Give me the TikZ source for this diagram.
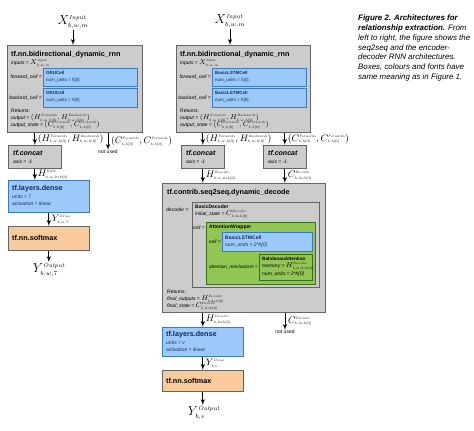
\RequirePackage{fix-cm}
\documentclass[tikz,border=0pt]{standalone}
\usepackage{amsmath}
\usepackage{fontspec}
\setsansfont{Liberation Sans}
\usepackage{tikz}
\usetikzlibrary{arrows}

\definecolor{boxgray}{RGB}{204,204,204}
\definecolor{linegray}{RGB}{100,100,100}
\definecolor{cellblue}{RGB}{155,202,250}
\definecolor{celledge}{RGB}{60,120,200}
\definecolor{navy}{RGB}{20,40,95}
\definecolor{attgreen}{RGB}{146,198,82}
\definecolor{greenedge}{RGB}{56,110,30}
\definecolor{softorange}{RGB}{249,203,156}

\DeclareMathSizes{4.5}{6.5}{3.2}{2.5}
\DeclareMathSizes{4.7}{6.8}{3.2}{2.5}
\DeclareMathSizes{5}{7}{3.3}{2.5}
\DeclareMathSizes{9.5}{9.5}{3.4}{3}
\DeclareMathSizes{13}{13}{6}{5}

\newcommand{\tsr}[3]{#1^{\mathit{#2}}_{#3}}

\begin{document}
\begin{tikzpicture}[x=1pt, y=-1pt]
	\tikzset{every node/.style = {font=\sffamily}}
	\tikzset{boxbase/.style = {draw, anchor=north west, inner sep=0pt, line width=0.7pt}}
	\tikzset{graybox/.style = {boxbase, draw=linegray, fill=boxgray}}
	\tikzset{cellbox/.style = {boxbase, draw=celledge, fill=cellblue}}
	\tikzset{greenbox/.style = {boxbase, draw=greenedge, fill=attgreen}}
	\tikzset{outbox/.style = {boxbase, draw=linegray, fill=softorange}}
	\tikzset{title/.style = {anchor=west, inner sep=0pt, font=\sffamily\bfseries\fontsize{7.2}{8}\selectfont}}
	\tikzset{optitle/.style = {anchor=west, inner sep=0pt, font=\sffamily\bfseries\itshape\fontsize{7}{8}\selectfont}}
	\tikzset{txt/.style = {anchor=west, inner sep=0pt, font=\sffamily\fontsize{5}{6}\selectfont}}
	\tikzset{celltxt/.style = {anchor=west, inner sep=0pt, text=navy, font=\sffamily\fontsize{4.5}{5}\selectfont}}
	\tikzset{tensor/.style = {anchor=west, inner sep=1pt, xshift=1.5pt, font=\fontsize{9.5}{10}\selectfont}}
	\tikzset{io/.style = {inner sep=1pt, font=\fontsize{13}{14}\selectfont}}
	\tikzset{edge/.style = {->, > = latex', line width=1pt}}
	\useasboundingbox (0,0) rectangle (474,431);

	% seq2seq
	\node[io] (xinL) at (73,22) {$\tsr{X}{Input}{b,w,m}$};
	\node[graybox, minimum width=135, minimum height=87] (rnnL) at (7,45) {};
	\node[title] (rnnLt) at (11,55) {tf.nn.bidirectional\_dynamic\_rnn};
	\node[txt] (rnnLin) at (11,63) {\textit{inputs =} $\tsr{X}{Input}{b,w,m}$};
	\node[cellbox, minimum width=94, minimum height=18] (gruF) at (43,68) {};
	\node[celltxt] (gruFt) at (46,73) {\textbf{GRUCell}};
	\node[celltxt] (gruFu) at (46,80.5) {num\_units = h[0]};
	\node[txt, anchor=east, xshift=-1pt] (gruFl) at (gruF.west) {\textit{forward\_cell =}};
	\node[cellbox, minimum width=94, minimum height=19] (gruB) at (43,88) {};
	\node[celltxt] (gruBt) at (46,93) {\textbf{GRUCell}};
	\node[celltxt] (gruBu) at (46,100.5) {num\_units = h[0]};
	\node[txt, anchor=east, xshift=-1pt] (gruBl) at (gruB.west) {\textit{backard\_cell =}};
	\node[txt] (rnnLr) at (11,111) {Returns:};
	\node[txt] (rnnLo) at (11,118) {\textit{output =} $(\tsr{H}{Forwards}{b,w,h[0]}, \tsr{H}{Backwards}{b,w,h[0]})$};
	\node[txt] (rnnLs) at (11,125.5) {\textit{output\_state =} $(\tsr{C}{Forwards}{b,h[0]}, \tsr{C}{Forwards}{b,h[0]})$};

	\node[graybox, minimum width=53, minimum height=23] (catL) at (8,145) {};
	\node[optitle] (catLt) at (13,152.5) {tf.concat};
	\node[txt] (catLa) at (13,162) {\textit{axis = -1}};
	\node[txt, anchor=center] (unusedL) at (108,152) {not used};

	\node[cellbox, minimum width=81, minimum height=32] (denseL) at (8,180) {};
	\node[title, text=navy] (denseLt) at (12,189) {tf.layers.dense};
	\node[txt, text=navy] (denseLu) at (12,196.5) {\textit{units = 7}};
	\node[txt, text=navy] (denseLa) at (12,203.5) {\textit{activation = linear}};
	\node[outbox, minimum width=81, minimum height=24] (softL) at (8,226) {};
	\node[title] (softLt) at (12,238) {tf.nn.softmax};
	\node[io] (youtL) at (49,270) {$\tsr{Y}{Output}{b,w,7}$};

	\draw[edge] (xinL) -- (xinL |- rnnL.north);
	\draw[edge] (rnnL.south -| catL) -- node[tensor] (hpairL) {$(\tsr{H}{Forwards}{b,w,h[0]}, \tsr{H}{Backwards}{b,w,h[0]})$} (catL);
	\draw[edge] (rnnL.south -| unusedL) -- node[tensor] (cpairL) {$(\tsr{C}{Forwards}{b,h[0]}, \tsr{C}{Forwards}{b,h[0]})$} (unusedL.north);
	\draw[edge] (catL) -- node[tensor] (hrnn) {$\tsr{H}{RNN}{b,w,2*h[0]}$} (catL |- denseL.north);
	\draw[edge] (denseL) -- node[tensor] (ydenseL) {$\tsr{Y}{Dense}{b,w,7}$} (softL);
	\draw[edge] (softL) -- (softL |- youtL.north);

	% encoder-decoder
	\node[io] (xinM) at (230,21) {$\tsr{X}{Input}{b,w,m}$};
	\node[graybox, minimum width=134, minimum height=87] (rnnM) at (176,45) {};
	\node[title] (rnnMt) at (180,55) {tf.nn.bidirectional\_dynamic\_rnn};
	\node[txt] (rnnMin) at (180,63) {\textit{inputs =} $\tsr{X}{Input}{b,w,m}$};
	\node[cellbox, minimum width=94, minimum height=18] (lstmF) at (212,68) {};
	\node[celltxt] (lstmFt) at (215,73) {\textbf{BasicLSTMCell}};
	\node[celltxt] (lstmFu) at (215,80.5) {num\_units = h[0]};
	\node[txt, anchor=east, xshift=-1pt] (lstmFl) at (lstmF.west) {\textit{forward\_cell =}};
	\node[cellbox, minimum width=94, minimum height=19] (lstmB) at (212,88) {};
	\node[celltxt] (lstmBt) at (215,93) {\textbf{BasicLSTMCell}};
	\node[celltxt] (lstmBu) at (215,100.5) {num\_units = h[0]};
	\node[txt, anchor=east, xshift=-1pt] (lstmBl) at (lstmB.west) {\textit{backard\_cell =}};
	\node[txt] (rnnMr) at (180,111) {Returns:};
	\node[txt] (rnnMo) at (180,118) {\textit{output =} $(\tsr{H}{Forwards}{b,w,h[0]}, \tsr{H}{Backwards}{b,w,h[0]})$};
	\node[txt] (rnnMs) at (180,125.5) {\textit{output\_state =} $(\tsr{C}{Forwards}{b,h[0]}, \tsr{C}{Forwards}{b,h[0]})$};

	\node[graybox, minimum width=43, minimum height=23] (catM) at (181,145) {};
	\node[optitle] (catMt) at (186,152.5) {tf.concat};
	\node[txt] (catMa) at (186,162) {\textit{axis = -1}};
	\node[graybox, minimum width=43, minimum height=23] (catS) at (263,145) {};
	\node[optitle] (catSt) at (268,152.5) {tf.concat};
	\node[txt] (catSa) at (268,162) {\textit{axis = -1}};

	\node[graybox, minimum width=163, minimum height=129] (decode) at (162,183) {};
	\node[title] (decodet) at (167,193) {tf.contrib.seq2seq.dynamic\_decode};
	\node[txt] (decoderl) at (166,210) {\textit{decoder =}};
	\node[graybox, minimum width=127, minimum height=85] (basicdec) at (192,202) {};
	\node[txt] (basicdect) at (195,207) {\textbf{BasicDecoder}};
	\node[txt] (basicdeci) at (195,214.5) {\textit{initial\_state =} $\tsr{C}{Encoder}{b,2*h[0]}$};
	\node[greenbox, minimum width=109, minimum height=62] (attwrap) at (206,222) {};
	\node[txt, anchor=east, xshift=-1pt] (attwrapl) at (206,228) {\textit{cell =}};
	\node[txt] (attwrapt) at (209,227) {\textbf{AttentionWrapper}};
	\node[cellbox, minimum width=90, minimum height=19] (lstmD) at (222,232) {};
	\node[txt, anchor=east, xshift=-1pt] (lstmDl) at (lstmD.west) {\textit{cell =}};
	\node[txt, text=navy] (lstmDt) at (225,238) {\textbf{BasicLSTMCell}};
	\node[txt, text=navy] (lstmDu) at (225,245.5) {\textit{num\_units = 2*h[0]}};
	\node[greenbox, minimum width=53, minimum height=26] (bahdanau) at (259,254) {};
	\node[txt, anchor=east, xshift=-1pt, font=\sffamily\fontsize{4.7}{5}\selectfont] (bahdanaul) at (bahdanau.west) {\textit{attention\_mechanism =}};
	\node[txt, font=\sffamily\fontsize{4.7}{5}\selectfont] (bahdanaut) at (262,258.5) {\textbf{BahdanauAttention}};
	\node[txt] (bahdanaum) at (262,266) {\textit{memory =} $\tsr{H}{Encoder}{b,w,2*h[0]}$};
	\node[txt] (bahdanauu) at (262,274) {\textit{num\_units = 2*h[0]}};
	\node[txt] (decoder) at (167,292) {Returns:};
	\node[txt] (decodeo) at (167,299) {\textit{final\_outputs =} $\tsr{H}{Decoder}{b,2*h[0]}$};
	\node[txt] (decodes) at (167,306.5) {\textit{final\_state =} $\tsr{C}{Decoder}{b,2*h[0]}$};

	\node[txt, anchor=center] (unusedM) at (285,332) {not used};
	\node[cellbox, minimum width=81, minimum height=29] (denseM) at (162,327) {};
	\node[title, text=navy] (denseMt) at (166,335) {tf.layers.dense};
	\node[txt, text=navy] (denseMu) at (166,342.5) {\textit{units = v}};
	\node[txt, text=navy] (denseMa) at (166,349.5) {\textit{activation = linear}};
	\node[outbox, minimum width=81, minimum height=21] (softM) at (162,370) {};
	\node[title] (softMt) at (166,380.5) {tf.nn.softmax};
	\node[io] (youtM) at (204,413) {$\tsr{Y}{Output}{b,v}$};

	\draw[edge] (xinM) -- (xinM |- rnnM.north);
	\draw[edge] (rnnM.south -| catM) -- node[tensor] (hpairM) {$(\tsr{H}{Forwards}{b,w,h[0]}, \tsr{H}{Backwards}{b,w,h[0]})$} (catM);
	\draw[edge] (rnnM.south -| catS) -- node[tensor] (cpairM) {$(\tsr{C}{Forwards}{b,h[0]}, \tsr{C}{Forwards}{b,h[0]})$} (catS);
	\draw[edge] (catM) -- node[tensor] (henc) {$\tsr{H}{Encoder}{b,w,2*h[0]}$} (catM |- decode.north);
	\draw[edge] (catS) -- node[tensor] (cenc) {$\tsr{C}{Encoder}{b,2*h[0]}$} (catS |- decode.north);
	\draw[edge] (decode.south -| denseM) -- node[tensor] (hdec) {$\tsr{H}{Decoder}{b,2*h[0]}$} (denseM);
	\draw[edge] (decode.south -| unusedM) -- node[tensor] (cdec) {$\tsr{C}{Decoder}{b,2*h[0]}$} (unusedM.north);
	\draw[edge] (denseM) -- node[tensor] (ydenseM) {$\tsr{Y}{Dense}{b,v}$} (softM);
	\draw[edge] (softM) -- (softM |- youtM.north);

	% caption
	\node[anchor=north west, inner sep=0pt, align=left, font=\sffamily\itshape\fontsize{7.9}{9.7}\selectfont] (caption) at (358,15)
		{\textbf{Figure 2. Architectures for}\\ \textbf{relationship extraction.} From\\ left to right, the figure shows the\\ seq2seq and the encoder-\\ decoder RNN architectures.\\ Boxes, colours and fonts have\\ same meaning as in Figure 1.};
\end{tikzpicture}
\end{document}
